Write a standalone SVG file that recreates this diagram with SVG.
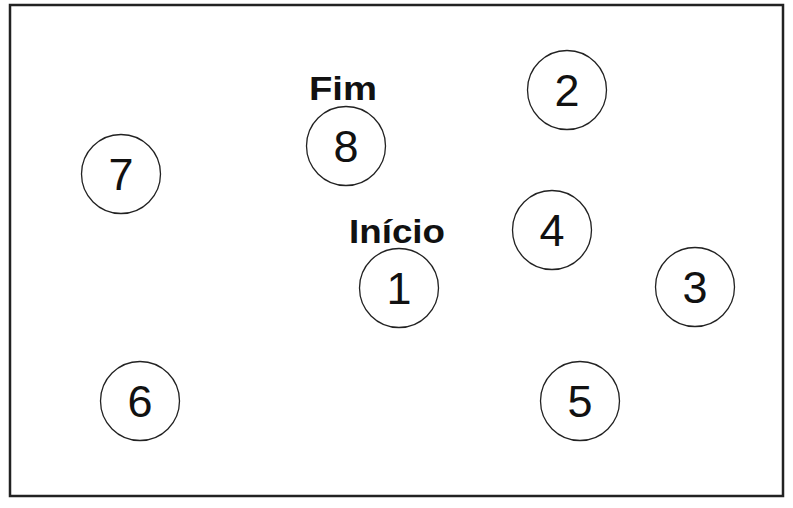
<svg xmlns="http://www.w3.org/2000/svg" width="793" height="508" viewBox="0 0 793 508">
<style>
.n circle{fill:#fff;stroke:#222;stroke-width:1.3}
.n text{font-family:"Liberation Sans",Arial,sans-serif;font-size:45px;fill:#111;text-anchor:middle}
.lbl{font-family:"Liberation Sans",Arial,sans-serif;font-size:34px;font-weight:bold;fill:#111}
</style>
<rect x="10" y="5" width="773" height="491" fill="#fff" stroke="#222" stroke-width="2.5"/>
<g id="connectors"></g>
<g id="node1" class="n"><circle cx="399" cy="288" r="39.5"/><text x="399" y="304">1</text></g>
<g id="node2" class="n"><circle cx="567" cy="90" r="39.5"/><text x="567" y="106">2</text></g>
<g id="node3" class="n"><circle cx="695" cy="287" r="39.5"/><text x="695" y="303">3</text></g>
<g id="node4" class="n"><circle cx="552" cy="230" r="39.5"/><text x="552" y="246">4</text></g>
<g id="node5" class="n"><circle cx="580" cy="401" r="39.5"/><text x="580" y="417">5</text></g>
<g id="node6" class="n"><circle cx="140" cy="401" r="39.5"/><text x="140" y="417">6</text></g>
<g id="node7" class="n"><circle cx="121" cy="174" r="39.5"/><text x="121" y="190">7</text></g>
<g id="node8" class="n"><circle cx="346" cy="146" r="39.5"/><text x="346" y="162">8</text></g>
<g id="labels">
<text class="lbl" x="309" y="100" textLength="68" lengthAdjust="spacingAndGlyphs">Fim</text>
<text class="lbl" x="349" y="243" textLength="96" lengthAdjust="spacingAndGlyphs">Início</text>
</g>
</svg>
